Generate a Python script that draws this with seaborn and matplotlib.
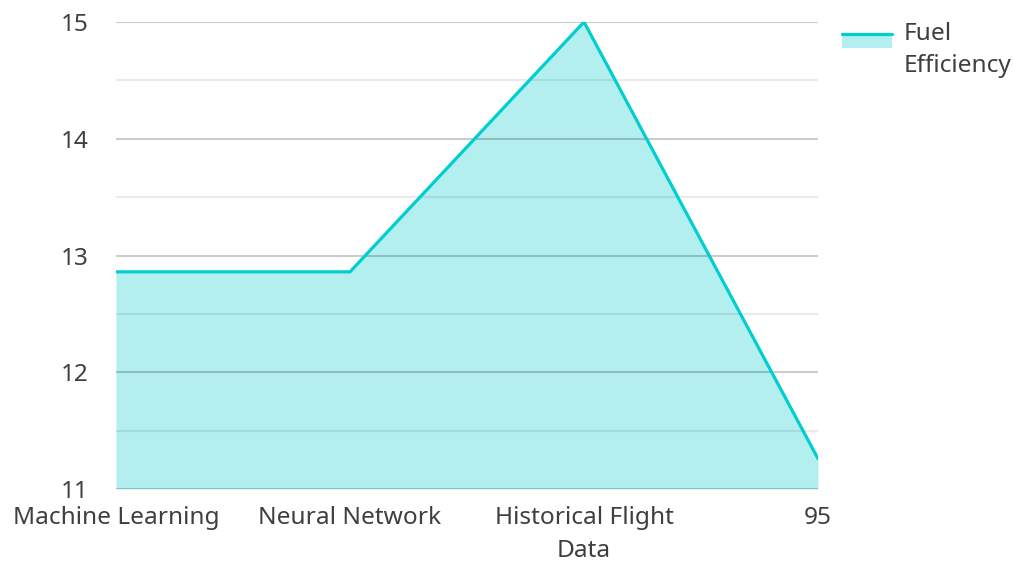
import matplotlib
matplotlib.use("Agg")
import matplotlib.pyplot as plt
import seaborn as sns
import pandas as pd
from matplotlib.patches import Rectangle
from matplotlib.lines import Line2D
from matplotlib.legend_handler import HandlerBase

categories = ["Machine Learning", "Neural Network", "Historical Flight\nData", "95"]
fuel_efficiency = [12.86, 12.86, 15.0, 11.26]
y_ticks = [11, 12, 13, 14, 15]

LINE = "#00CED1"
FILL = "#B2EFEE"
TEXT = "#3f3f3f"
FS = 17.6

sns.set_theme(style="white")
plt.rcParams["font.family"] = ["Noto Sans", "DejaVu Sans"]

df = pd.DataFrame({"x": range(len(categories)), "value": fuel_efficiency})

fig = plt.figure(figsize=(10.14, 5.61), dpi=100)
ax = fig.add_axes([0.1144, 0.1283, 0.8067 - 0.1144, 0.9608 - 0.1283])

ax.fill_between(df["x"], y_ticks[0], df["value"], color=FILL, linewidth=0, zorder=1)
sns.lineplot(data=df, x="x", y="value", ax=ax, color=LINE, linewidth=2.3,
             zorder=3, legend=False)

ax.set_xlim(0, len(categories) - 1)
ax.set_ylim(y_ticks[0], y_ticks[-1])
ax.set_yticks(y_ticks)
ax.set_yticks([v + 0.5 for v in y_ticks[:-1]], minor=True)
ax.set_xticks(range(len(categories)))
ax.set_xticklabels(categories, linespacing=1.5)
ax.set_axisbelow(False)
ax.grid(axis="y", which="major", color="#000000", alpha=0.2, linewidth=1.5, zorder=2)
ax.grid(axis="y", which="minor", color="#000000", alpha=0.08, linewidth=1.5, zorder=2)
ax.grid(axis="x", visible=False)
for s in ax.spines.values():
    s.set_visible(False)
ax.tick_params(axis="both", which="both", length=0, labelsize=FS, labelcolor=TEXT)
ax.tick_params(axis="y", pad=20)
ax.tick_params(axis="x", pad=12)
ax.set_xlabel("")
ax.set_ylabel("")


class AreaLineHandler(HandlerBase):
    """Legend key: light area swatch with the series line along its top edge."""
    def create_artists(self, legend, orig_handle, xdescent, ydescent,
                       width, height, fontsize, trans):
        lift = 0.38 * fontsize
        bottom = -ydescent + lift
        top = bottom + height
        rect = Rectangle((-xdescent, bottom), width, top - bottom,
                         facecolor=FILL, edgecolor="none", transform=trans)
        line = Line2D([-xdescent, -xdescent + width], [top, top],
                      color=LINE, linewidth=2.3, transform=trans)
        return [rect, line]


proxy = Rectangle((0, 0), 1, 1)
leg = fig.legend([proxy], ["Fuel\nEfficiency"], handler_map={Rectangle: AreaLineHandler()},
                 loc="upper left", bbox_to_anchor=(0.821, 0.978), frameon=False,
                 borderaxespad=0, fontsize=FS, handlelength=2.05, handleheight=0.5,
                 handletextpad=0.45, labelcolor=TEXT)
for t in leg.get_texts():
    t.set_linespacing(1.42)

fig.savefig("out.png", dpi=100)
